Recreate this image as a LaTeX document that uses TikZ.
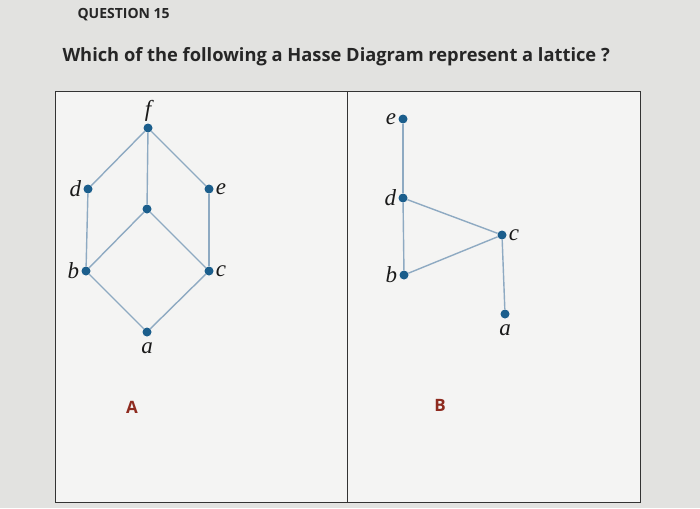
\documentclass[tikz,border=0pt]{standalone}
\usepackage{fontspec}
\setmainfont{Open Sans}
\newfontfamily\letterfont{Liberation Serif}
\definecolor{dotblue}{HTML}{1B5E8C}
\definecolor{edgeblue}{HTML}{8EAAC2}
\definecolor{panelred}{HTML}{8E2B1F}
\definecolor{screengray}{HTML}{E2E2E0}
\begin{document}
\begin{tikzpicture}
[x=1pt,y=-1pt,
 nodedecorate/.style={shape=circle,inner sep=0pt,minimum size=9pt,fill=dotblue},%
 linedecorate/.style={-,line width=1.4pt,draw=edgeblue},%
 letterdecorate/.style={font=\letterfont\itshape\fontsize{23}{23}\selectfont,inner sep=2pt,text=black!90},%
 paneldecorate/.style={font=\bfseries\fontsize{17}{17}\selectfont,text=panelred}]
%% screen and frame
\fill[screengray] (0,0) rectangle (700,508);
\useasboundingbox (0,0) rectangle (700,508);
\node[anchor=base west,font=\bfseries\fontsize{14}{14}\selectfont,text=black!85] (title) at (74,19) {QUESTION 15};
\node[anchor=base west,font=\bfseries\fontsize{18.3}{18.3}\selectfont,text=black!85] (question) at (59,62)
  {Which of the following a Hasse Diagram represent a lattice ?};
\fill[white!60!screengray] (55,92) rectangle (640,502);
\draw[line width=1pt,black!80] (55,92) rectangle (640,502);
\draw[line width=1pt,black!80] (347,92) -- (347,502);
%% nodes or vertices
\foreach \nodename/\x/\y in {af/148/128, ad/88/189, ae/209/189, am/147/209,
  ab/86/271, ac/209/271, aa/147/332,
  be/403/119, bd/403/198, bc/502/235, bb/404/275, ba/505/314}
{
  \node (\nodename) at (\x,\y) [nodedecorate] {};
}
\foreach \nodename/\direction/\navigate/\drop/\letter in {af/above/north/0/f,
  ad/left/west/0/d, ae/right/east/0/e, ab/left/west/0/b, ac/right/east/0/c,
  aa/below/south/-4/a, be/left/west/0/e, bd/left/west/0/d, bc/right/east/0/c,
  bb/left/west/0/b, ba/below/south/-4/a}
{
  \node [\direction,letterdecorate,yshift=\drop pt] at (\nodename.\navigate) {\letter};
}
%% edges or lines
\path
\foreach \startnode/\endnode in {af/ad, af/am, af/ae, ad/ab, ae/ac, am/ab,
  am/ac, ab/aa, ac/aa, be/bd, bd/bb, bd/bc, bb/bc, bc/ba} {
  (\startnode) edge[linedecorate] node {} (\endnode)
};
%% panel names
\node[paneldecorate] (panelA) at (132,407) {A};
\node[paneldecorate] (panelB) at (440,405) {B};
\end{tikzpicture}
\end{document}
